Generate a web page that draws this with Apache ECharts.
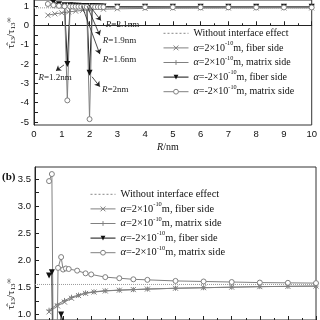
<!DOCTYPE html>
<html>
<head>
<meta charset="utf-8">
<script src="https://cdn.jsdelivr.net/npm/echarts@6/dist/echarts.min.js"></script>
<style>
html, body { margin: 0; padding: 0; background: #fff; }
#chart { width: 320px; height: 320px; }
</style>
</head>
<body>
<div id="chart"></div>
<script>
// legend names (a) and (b) share them
var names = ['Without interface effect', 'α=2×10⁻¹⁰m, fiber side', 'α=2×10⁻¹⁰m, matrix side', 'α=-2×10⁻¹⁰m, fiber side', 'α=-2×10⁻¹⁰m, matrix side']
var richNames = ['Without interface effect', '{i|α}=2×10{s|-10}m, fiber side', '{i|α}=2×10{s|-10}m, matrix side', '{i|α}=-2×10{s|-10}m, fiber side', '{i|α}=-2×10{s|-10}m, matrix side']

// ---- panel (a) ----
var refLineR = [0, 10]
var refLineA = [0.9, 0.9]
var rPosA = [0.5, 0.75, 1, 1.25, 1.5, 1.75, 2, 2.5, 3, 4, 5, 6, 7, 8, 9, 10]
var fiberPosA = [0.52, 0.59, 0.64, 0.69, 0.73, 0.77, 0.8, 0.83, 0.85, 0.87, 0.88, 0.885, 0.89, 0.89, 0.895, 0.895]
var matrixPosA = [1.05, 1.0, 0.98, 0.965, 0.955, 0.95, 0.945, 0.94, 0.935, 0.93, 0.925, 0.925, 0.92, 0.92, 0.92, 0.92]
var rNegA = [0.5, 0.7, 0.9, 1.1, 1.2, 1.3, 1.4, 1.5, 1.6, 1.7, 1.8, 1.9, 2.0, 2.1, 2.2, 2.3, 2.4, 2.5, 3, 4, 5, 6, 7, 8, 9, 10]
var fiberNegA = [1.4, 1.2, 1.08, 1.04, -2.0, 1.03, 1.02, 1.01, 1.01, 1.0, 1.0, 0.99, -2.45, 0.99, 0.98, 0.98, 0.97, 0.97, 0.96, 0.955, 0.95, 0.95, 0.95, 0.95, 0.95, 0.95]
var matrixNegA = [1.1, 1.04, 1.0, 0.98, -3.88, 0.97, 0.97, 0.96, 0.96, 0.96, 0.95, 0.95, -4.85, 0.95, 0.945, 0.945, 0.94, 0.94, 0.935, 0.93, 0.93, 0.925, 0.925, 0.92, 0.92, 0.92]
var yTicksA = [-5, -4, -3, -2, -1, 0, 1]

// annotations (a): label, arrow tail [R, value], arrow head [R, value], label anchor [R, value]
var annoText = ['R=2.1nm', 'R=1.9nm', 'R=1.6nm', 'R=1.2nm', 'R=2nm']
var annoTail = [[1.98, 1.05], [1.91, 1.0], [1.73, 1.0], [1.08, -2.05], [2.09, -2.66]]
var annoHead = [[2.41, 0.24], [2.37, -0.52], [2.37, -1.49], [0.79, -2.35], [2.37, -3.17]]
var annoPos = [[2.57, 0.03], [2.46, -0.78], [2.46, -1.79], [0.14, -2.71], [2.43, -3.32]]

// ---- panel (b) ----
var refLineB = [1.555, 1.555]
var rPosB = [0.5, 0.8, 1.05, 1.3, 1.55, 1.8, 2.1, 2.5, 3, 3.5, 4, 5, 6, 7, 8, 9, 10]
var matrixPosB = [1.08, 1.19, 1.26, 1.32, 1.36, 1.4, 1.42, 1.44, 1.45, 1.46, 1.47, 1.485, 1.495, 1.505, 1.515, 1.52, 1.525]
var fiberPosB = [1.05, 1.16, 1.23, 1.3, 1.35, 1.39, 1.415, 1.435, 1.45, 1.46, 1.47, 1.485, 1.495, 1.505, 1.515, 1.52, 1.525]
var rFiberNegB = [0.5, 0.6, 0.7, 0.93, 1.1, 1.5, 2, 3, 4, 5, 6, 7, 8, 9, 10]
var fiberNegB = [1.72, 1.78, -3, 1.0, 0.7, 0.6, 0.6, 0.6, 0.6, 0.6, 0.6, 0.6, 0.6, 0.6, 0.6]
var rMatrixNegB = [0.5, 0.6, 0.7, 0.82, 0.93, 1.0, 1.1, 1.2, 1.5, 1.8, 2.0, 2.5, 3, 3.5, 4, 5, 6, 7, 8, 9, 10]
var matrixNegB = [3.46, 3.59, -3, 1.86, 2.06, 1.83, 1.85, 1.84, 1.81, 1.76, 1.74, 1.69, 1.67, 1.65, 1.64, 1.62, 1.61, 1.6, 1.59, 1.585, 1.58]
var yTicksB = [1.0, 1.5, 2.0, 2.5, 3.0, 3.5]

var GRAY = '#808080'
var SERIF = 'Liberation Serif'
var SANS = 'Liberation Sans'

function pairs(xs, ys) {
    return xs.map(function (x, i) { return [x, ys[i]] })
}
function halfSteps(a, b, step) {
    var out = []
    for (var v = a; v <= b + 1e-9; v += step) out.push(Math.round(v * 100) / 100)
    return out
}

var styles = [
    { symbol: 'none', lineStyle: { color: '#9a9a9a', width: 1, type: 'dotted' }, itemStyle: { color: '#9a9a9a' } },
    { symbol: 'path://M0,0L10,10M10,0L0,10', symbolSize: 5, lineStyle: { color: GRAY, width: 1 }, itemStyle: { color: GRAY, borderColor: GRAY, borderWidth: 1 } },
    { symbol: 'path://M5,0L5,10M0,5L10,5', symbolSize: 5, lineStyle: { color: GRAY, width: 1 }, itemStyle: { color: GRAY, borderColor: GRAY, borderWidth: 1 } },
    { symbol: 'triangle', symbolRotate: 180, symbolSize: 6, lineStyle: { color: '#111', width: 1 }, itemStyle: { color: '#111' } },
    { symbol: 'circle', symbolSize: 5, lineStyle: { color: GRAY, width: 1 }, itemStyle: { color: '#fff', borderColor: GRAY, borderWidth: 1 } }
]

function mk(idx, gi, data) {
    var s = styles[idx]
    return Object.assign({
        name: names[idx],
        type: 'line',
        xAxisIndex: gi,
        yAxisIndex: gi,
        data: data,
        showAllSymbol: true,
        animation: false,
        clip: true
    }, s)
}

var seriesA = [
    mk(0, 0, pairs(refLineR, refLineA)),
    mk(1, 0, pairs(rPosA, fiberPosA)),
    mk(2, 0, pairs(rPosA, matrixPosA)),
    mk(3, 0, pairs(rNegA, fiberNegA)),
    mk(4, 0, pairs(rNegA, matrixNegA))
]
seriesA[3].markLine = {
    silent: true,
    symbol: ['none', 'arrow'],
    symbolSize: 5,
    label: { show: false },
    lineStyle: { color: '#222', width: 0.8, type: 'solid' },
    data: annoTail.map(function (t, i) { return [{ coord: t }, { coord: annoHead[i] }] })
}
seriesA[3].markPoint = {
    silent: true,
    symbol: 'rect',
    symbolSize: 1,
    itemStyle: { color: 'rgba(0,0,0,0)' },
    label: {
        show: true,
        position: 'right',
        distance: 0,
        formatter: function (p) { return '{i|R}' + p.name.slice(1) },
        fontFamily: SERIF,
        fontSize: 9,
        color: '#222',
        rich: { i: { fontFamily: SERIF, fontStyle: 'italic', fontSize: 9, color: '#222' } }
    },
    data: annoPos.map(function (p, i) { return { name: annoText[i], coord: p } })
}

var seriesB = [
    mk(0, 1, pairs(refLineR, refLineB)),
    mk(1, 1, pairs(rPosB, fiberPosB)),
    mk(2, 1, pairs(rPosB, matrixPosB)),
    mk(3, 1, pairs(rFiberNegB, fiberNegB)),
    mk(4, 1, pairs(rMatrixNegB, matrixNegB))
]

function legendOf(left, top, size) {
    return {
        data: names.map(function (n, i) {
            // reference line has no marker in its key
            return i === 0
                ? { name: n, itemStyle: { color: 'rgba(0,0,0,0)', borderWidth: 0 }, lineStyle: { type: [2, 2], color: '#888', width: 1 } }
                : { name: n }
        }),
        orient: 'vertical',
        left: left,
        top: top,
        padding: 0,
        itemWidth: 25,
        itemHeight: 6,
        itemGap: 0,
        selectedMode: false,
        itemStyle: { borderWidth: 1 },
        lineStyle: { width: 1 },
        formatter: function (n) { return richNames[names.indexOf(n)] },
        textStyle: {
            fontFamily: SERIF, fontSize: size, color: '#111', lineHeight: 14.6,
            rich: {
                i: { fontFamily: SERIF, fontStyle: 'italic', fontSize: size, color: '#111', lineHeight: 14.6 },
                s: { fontFamily: SERIF, fontSize: size * 0.62, color: '#111', verticalAlign: 'top', lineHeight: 14.6, padding: [0, 0, 6, 0] }
            }
        }
    }
}

function xAxisOf(gi, showLabels) {
    return {
        type: 'value', gridIndex: gi, min: 0, max: 10, interval: 1,
        axisLine: { lineStyle: { color: '#222', width: 1 } },
        axisTick: { inside: true, length: 4, lineStyle: { color: '#222' } },
        minorTick: { show: true, splitNumber: 2, length: 2, lineStyle: { color: '#222' } },
        splitLine: { show: false },
        axisLabel: { show: showLabels, margin: 4, fontFamily: SANS, fontSize: 9.5, color: '#111' },
        name: showLabels ? '{i|R}/nm' : '',
        nameLocation: 'middle',
        nameGap: 17,
        nameTextStyle: {
            fontFamily: SERIF, fontSize: 10, color: '#111', padding: [0, 10, 0, 0],
            rich: { i: { fontFamily: SERIF, fontStyle: 'italic', fontSize: 10, color: '#111' } }
        }
    }
}

var titleRich = {
    a: { fontFamily: SERIF, fontSize: 11, fill: '#111' },
    b: { fontFamily: SERIF, fontSize: 7, fill: '#111', verticalAlign: 'bottom' },
    c: { fontFamily: SERIF, fontSize: 7, fill: '#111', verticalAlign: 'top' }
}

var option = {
    backgroundColor: '#fff',
    animation: false,
    grid: [
        { left: 34, right: 8, top: -2, bottom: 195, show: true, borderColor: '#333', borderWidth: 1 },
        { left: 35, right: 4, top: 167, bottom: -2.5, show: true, borderColor: '#333', borderWidth: 1 }
    ],
    xAxis: [xAxisOf(0, true), xAxisOf(1, false)],
    yAxis: [
        {
            type: 'value', gridIndex: 0, min: -5.152, max: 1.305,
            axisLine: { lineStyle: { color: '#222', width: 1 } },
            axisTick: { inside: true, length: 4, customValues: halfSteps(-5, 1, 0.5), lineStyle: { color: '#222' } },
            splitLine: { show: false },
            axisLabel: { customValues: yTicksA, margin: 5, fontFamily: SANS, fontSize: 9.5, color: '#111' }
        },
        {
            type: 'value', gridIndex: 1, min: 0.9, max: 3.72,
            axisLine: { lineStyle: { color: '#222', width: 1 } },
            axisTick: { inside: true, length: 4, customValues: halfSteps(1, 3.5, 0.25), lineStyle: { color: '#222' } },
            splitLine: { show: false },
            axisLabel: {
                customValues: yTicksB, margin: 4, fontFamily: SANS, fontSize: 9.5, color: '#111',
                formatter: function (v) { return v.toFixed(1) }
            }
        }
    ],
    legend: [legendOf(163, 26, 10), legendOf(90, 187, 10.4)],
    graphic: [
        {
            type: 'text', x: 11, y: 33, rotation: Math.PI / 2,
            style: { text: '{a|τ̂}{b|13}{a|/τ}{b|13}{c|∞}', align: 'center', verticalAlign: 'middle', rich: titleRich }
        },
        {
            type: 'text', x: 11, y: 294, rotation: Math.PI / 2,
            style: { text: '{a|τ̂}{b|13}{a|/τ}{b|13}{c|∞}', align: 'center', verticalAlign: 'middle', rich: titleRich }
        },
        {
            type: 'text', x: 2, y: 177,
            style: { text: '(b)', fontFamily: SERIF, fontWeight: 'bold', fontSize: 11, fill: '#111', verticalAlign: 'middle' }
        }
    ],
    series: seriesA.concat(seriesB)
}

var chart = echarts.init(document.getElementById('chart'))
chart.setOption(option)
</script>
</body>
</html>
